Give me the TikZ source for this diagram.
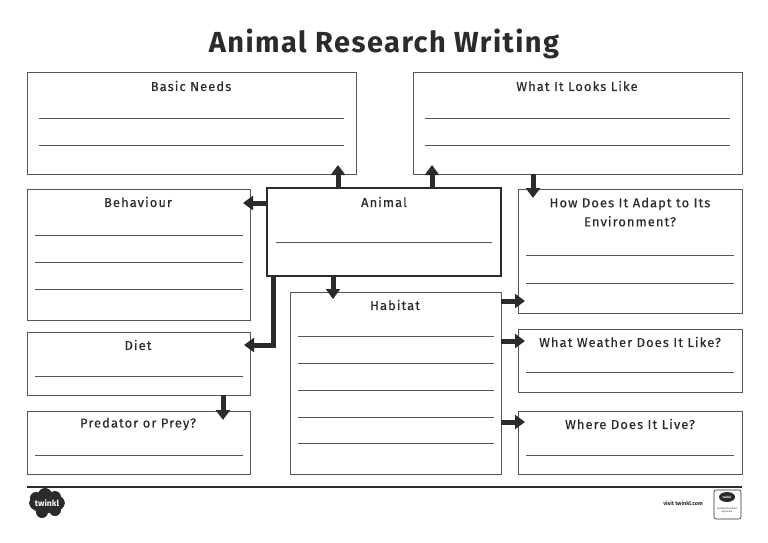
\documentclass[tikz,border=0pt]{standalone}
\usepackage{fontspec}
\setmainfont{Fira Sans}
\usetikzlibrary{arrows.meta}
\definecolor{ink}{HTML}{2B2B2B}
\begin{document}
\begin{tikzpicture}[x=1pt,y=-1pt,
  box/.style={draw=ink!80,line width=0.9pt},
  wline/.style={draw=ink!80,line width=0.6pt},
  ttl/.style={font=\fontsize{13}{19}\selectfont\addfontfeatures{FakeBold=0.3,LetterSpace=8},text=ink},
  arr/.style={draw=ink,line width=5pt,-{Triangle[width=14pt,length=10pt]}}]
\useasboundingbox[fill=white] (0,0) rectangle (768,543);
\node[font=\fontsize{29}{32}\selectfont\bfseries\addfontfeatures{LetterSpace=5},text=ink] (title) at (384,44) {Animal Research Writing};
% boxes
\draw[box] (27,72) rectangle (356,174); \node[ttl] (bn) at (191,86) {Basic Needs};
\draw[wline] (39,118)--(344,118) (39,145)--(344,145);
\draw[box] (413,72) rectangle (742,174); \node[ttl] (wl) at (577,86) {What It Looks Like};
\draw[wline] (425,118)--(730,118) (425,145)--(730,145);
\draw[box] (27,189) rectangle (250,320); \node[ttl] (bh) at (138,202) {Behaviour};
\draw[wline] (35,235)--(243,235) (35,262)--(243,262) (35,289)--(243,289);
\draw[draw=ink,line width=2pt] (267,188) rectangle (501,276); \node[ttl] (an) at (384,202) {Animal};
\draw[wline] (276,242)--(492,242);
\draw[box] (518,189) rectangle (742,313);
\node[ttl,align=center] (ad) at (630,212) {How Does It Adapt to Its\\Environment?};
\draw[wline] (526,255)--(734,255) (526,283)--(734,283);
\draw[box] (290,292) rectangle (501,474); \node[ttl] (hb) at (395,305) {Habitat};
\foreach \y in {336,363,390,417,443} \draw[wline] (298,\y)--(494,\y);
\draw[box] (27,332) rectangle (250,395); \node[ttl] (dt) at (138,345) {Diet};
\draw[wline] (35,376)--(243,376);
\draw[box] (27,411) rectangle (250,474); \node[ttl] (pp) at (138,424) {Predator or Prey?};
\draw[wline] (35,455)--(243,455);
\draw[box] (518,329) rectangle (742,392); \node[ttl] (ww) at (630,342) {What Weather Does It Like?};
\draw[wline] (526,372)--(734,372);
\draw[box] (518,411) rectangle (742,474); \node[ttl] (wh) at (630,424) {Where Does It Live?};
\draw[wline] (526,455)--(734,455);
% arrows
\coordinate (a1) at (338,188); \coordinate (b1) at (338,165);
\coordinate (a2) at (432,188); \coordinate (b2) at (432,165);
\coordinate (a3) at (533,174); \coordinate (b3) at (533,198);
\coordinate (a4) at (267,203); \coordinate (b4) at (243,203);
\coordinate (a5) at (333,276); \coordinate (b5) at (333,299);
\coordinate (a6) at (273,276); \coordinate (b6) at (244,345);
\coordinate (a7) at (223,395); \coordinate (b7) at (223,420);
\draw[arr] (a1)--(b1); \draw[arr] (a2)--(b2); \draw[arr] (a3)--(b3);
\draw[arr] (a4)--(b4); \draw[arr] (a5)--(b5);
\draw[arr] (a6)--(273,345)--(b6); \draw[arr] (a7)--(b7);
\foreach \y/\n in {301/h1,341/h2,422/h3}{
  \coordinate (\n a) at (501,\y); \coordinate (\n b) at (525,\y);
  \draw[arr] (\n a)--(\n b);}
% footer
\draw[ink,line width=1.8pt] (27,487)--(742,487);
\fill[ink] (47,503) ellipse (18 and 10) (45,495) circle (7) (55,497) circle (6) (36,498) circle (6) (42,512) circle (6) (55,510) circle (6);
\node[text=white,font=\fontsize{8.5}{9}\selectfont\bfseries] (logo) at (47,503) {twinkl};
\node[text=ink,font=\fontsize{5.5}{6}\selectfont\bfseries] (visit) at (683,503) {visit twinkl.com};
\draw[ink,line width=0.6pt,rounded corners=2pt] (714,490) rectangle (741,519);
\fill[ink] (727,497) ellipse (8 and 5);
\node[text=white,font=\fontsize{3}{3}\selectfont\bfseries] (badge) at (727,497) {twinkl};
\node[text=ink,font=\fontsize{2.5}{3}\selectfont,align=center] (bt) at (727,510) {Quality Standard\\Approved};
\end{tikzpicture}
\end{document}
